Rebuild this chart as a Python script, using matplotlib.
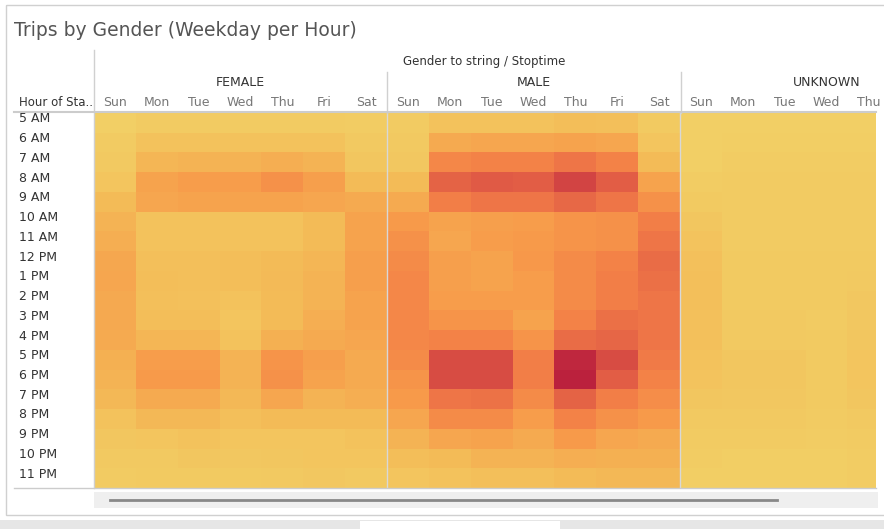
import numpy as np
import matplotlib
matplotlib.use("Agg")
import matplotlib.pyplot as plt
from matplotlib.colors import LinearSegmentedColormap
from matplotlib.patches import Rectangle

hours = ["5 AM","6 AM","7 AM","8 AM","9 AM","10 AM","11 AM","12 PM","1 PM","2 PM","3 PM",
         "4 PM","5 PM","6 PM","7 PM","8 PM","9 PM","10 PM","11 PM"]
days = ["Sun","Mon","Tue","Wed","Thu","Fri","Sat"]
unknown_days = ["Sun","Mon","Tue","Wed","Thu"]
genders = ["FEMALE","MALE","UNKNOWN"]

female = [
 [0,0.3,0.3,0.3,0.3,0.3,0.2],[0.3,1,1,1,1,1,0.5],[0.5,1.8,2,2,2.3,2,0.7],
 [0.8,3,3.3,3.3,4,3.2,1.5],[1.5,2.8,3,3,3,2.8,2.5],[2,1,1,1,1,1.5,3],
 [2.3,1,1,1,1,1.5,3],[2.7,1.2,1.2,1.3,1.5,1.8,3.2],[2.8,1.3,1.2,1.3,1.6,2,3.2],
 [2.6,1.2,1.1,1,1.5,2,3],[2.6,1.3,1.3,0.8,1.5,2.3,3],[2.5,1.8,1.8,1,2.2,2.5,2.8],
 [2.2,3.3,3.3,2,3.8,3.2,2.5],[2,3.5,3.5,2,4,3,2.5],[1.7,2.5,2.5,1.7,2.8,2,2.3],
 [1,1.7,1.7,1.2,1.5,1.5,1.5],[0.7,0.8,1,0.8,0.8,0.8,1],[0.5,0.5,0.7,0.6,0.7,0.8,0.8],
 [0.3,0.4,0.4,0.4,0.5,0.6,0.5]]
male = [
 [0.3,1,1,1,1.3,1.2,0.4],[0.5,2.5,2.8,2.8,3,2.8,0.8],[0.6,4.5,4.8,4.8,5.5,4.8,1.5],
 [1.5,6.5,7,6.8,8.2,6.8,3],[2.5,5,5.5,5.5,6.2,5.5,4],[3.5,3,3.2,3.3,3.8,4,5],
 [4,2.8,3.3,3.5,3.8,4,5.5],[4.3,3.2,3,3.6,4.3,4.8,6],[4.5,3.2,3,3.3,4.3,5,5.8],
 [4.5,3.3,3.3,3.3,4.3,5,5.5],[4.5,3.8,3.8,3,4.8,5.8,5.5],[4.5,4.8,4.8,3.8,6,6.3,5.5],
 [4.3,7.8,7.8,5,9.5,7.8,5.2],[3.8,7.8,7.8,5,9.8,6.8,4.8],[3.5,5.5,5.7,4.3,6.5,5,4.2],
 [2.8,4.3,4.3,3.3,4.8,4,3.5],[2,2.8,3,2.5,3.5,2.8,2.5],[1.3,1.5,2,2,2.3,2.2,2.2],
 [0.8,1,1.2,1.2,1.5,1.7,1.7]]
unknown = [
 [0,0,0,0,0],[0,0.1,0.1,0.1,0.1],[0,0.2,0.2,0.2,0.2],[0.2,0.3,0.3,0.3,0.3],
 [0.4,0.3,0.3,0.3,0.3],[0.7,0.3,0.3,0.3,0.3],[0.9,0.3,0.3,0.3,0.3],[1.1,0.4,0.4,0.4,0.4],
 [1.2,0.4,0.4,0.4,0.5],[1.2,0.4,0.4,0.4,0.6],[1.1,0.5,0.5,0.3,0.6],[1.1,0.5,0.5,0.4,0.7],
 [1,0.7,0.7,0.4,0.8],[0.9,0.7,0.7,0.4,0.8],[0.7,0.6,0.6,0.4,0.7],[0.5,0.5,0.5,0.3,0.5],
 [0.3,0.3,0.3,0.2,0.3],[0.2,0.1,0.1,0.1,0.2],[0.1,0.1,0.1,0.1,0.2]]

data = np.hstack([np.array(female), np.array(male), np.array(unknown)])

cmap = LinearSegmentedColormap.from_list("t", [
    (0.0, "#F2CF65"), (0.15, "#F3BB57"), (0.35, "#F79A4A"), (0.5, "#F27E47"),
    (0.7, "#E05A45"), (0.85, "#CF3F42"), (1.0, "#B81C3C")])

W, H = 884, 529
fig = plt.figure(figsize=(W/100, H/100), dpi=100)
fig.patch.set_facecolor("white")

def fx(x): return x / W
def fy(y): return 1 - y / H

x0, x1, y0, y1 = 94, 876, 113, 488
colw = (387 - 94) / 7
ax = fig.add_axes([fx(x0), fy(y1), (x1 - x0) / W, (y1 - y0) / H])
ax.pcolormesh(np.arange(data.shape[1] + 1), np.arange(data.shape[0] + 1), data,
              cmap=cmap, vmin=0, vmax=10)
ax.set_xlim(0, (x1 - x0) / colw)
ax.set_ylim(data.shape[0], 0)
ax.axis("off")
for xv in (7, 14):
    ax.axvline(xv, color="#d8d8d8", lw=1)

ov = fig.add_axes([0, 0, 1, 1], facecolor="none")
ov.set_xlim(0, W); ov.set_ylim(H, 0); ov.axis("off")
ov.add_patch(Rectangle((6, 5), 880, 510, fill=False, ec="#d0d0d0", lw=1))
ov.text(14, 30, "Trips by Gender (Weekday per Hour)", fontsize=13.5, color="#555555", va="center")
ov.text(484, 62, "Gender to string / Stoptime", fontsize=8.5, color="#333333", ha="center", va="center")
ov.plot([94, 94], [50, 488], color="#d0d0d0", lw=1)
ov.plot([387, 387], [72, 113], color="#d0d0d0", lw=1)
ov.plot([681, 681], [72, 113], color="#d0d0d0", lw=1)
ov.plot([14, 876], [112, 112], color="#cccccc", lw=1.5)
ov.plot([14, 876], [488, 488], color="#cccccc", lw=1)
centers = [94 + 3.5 * colw, 387 + 3.5 * colw, 827]
for g, c in zip(genders, centers):
    ov.text(c, 83, g, fontsize=9, color="#333333", ha="center", va="center")
labels = days + days + unknown_days
for i, d in enumerate(labels):
    ov.text(94 + (i + 0.5) * colw, 103, d, fontsize=9, color="#777777", ha="center", va="center")
ov.text(19, 103, "Hour of Sta..", fontsize=8.5, color="#333333", va="center")
rh = (y1 - y0) / len(hours)
for i, h in enumerate(hours):
    ov.text(19, y0 + (i + 0.3) * rh, h, fontsize=9, color="#333333", va="center")
ov.add_patch(Rectangle((94, 492), 784, 16, color="#efefef", lw=0))
ov.plot([110, 777], [500, 500], color="#888888", lw=2)
ov.add_patch(Rectangle((0, 520), W, 9, color="#e6e6e6", lw=0))
ov.add_patch(Rectangle((360, 521), 200, 8, color="white", lw=0))

fig.savefig("out.png", dpi=100)
